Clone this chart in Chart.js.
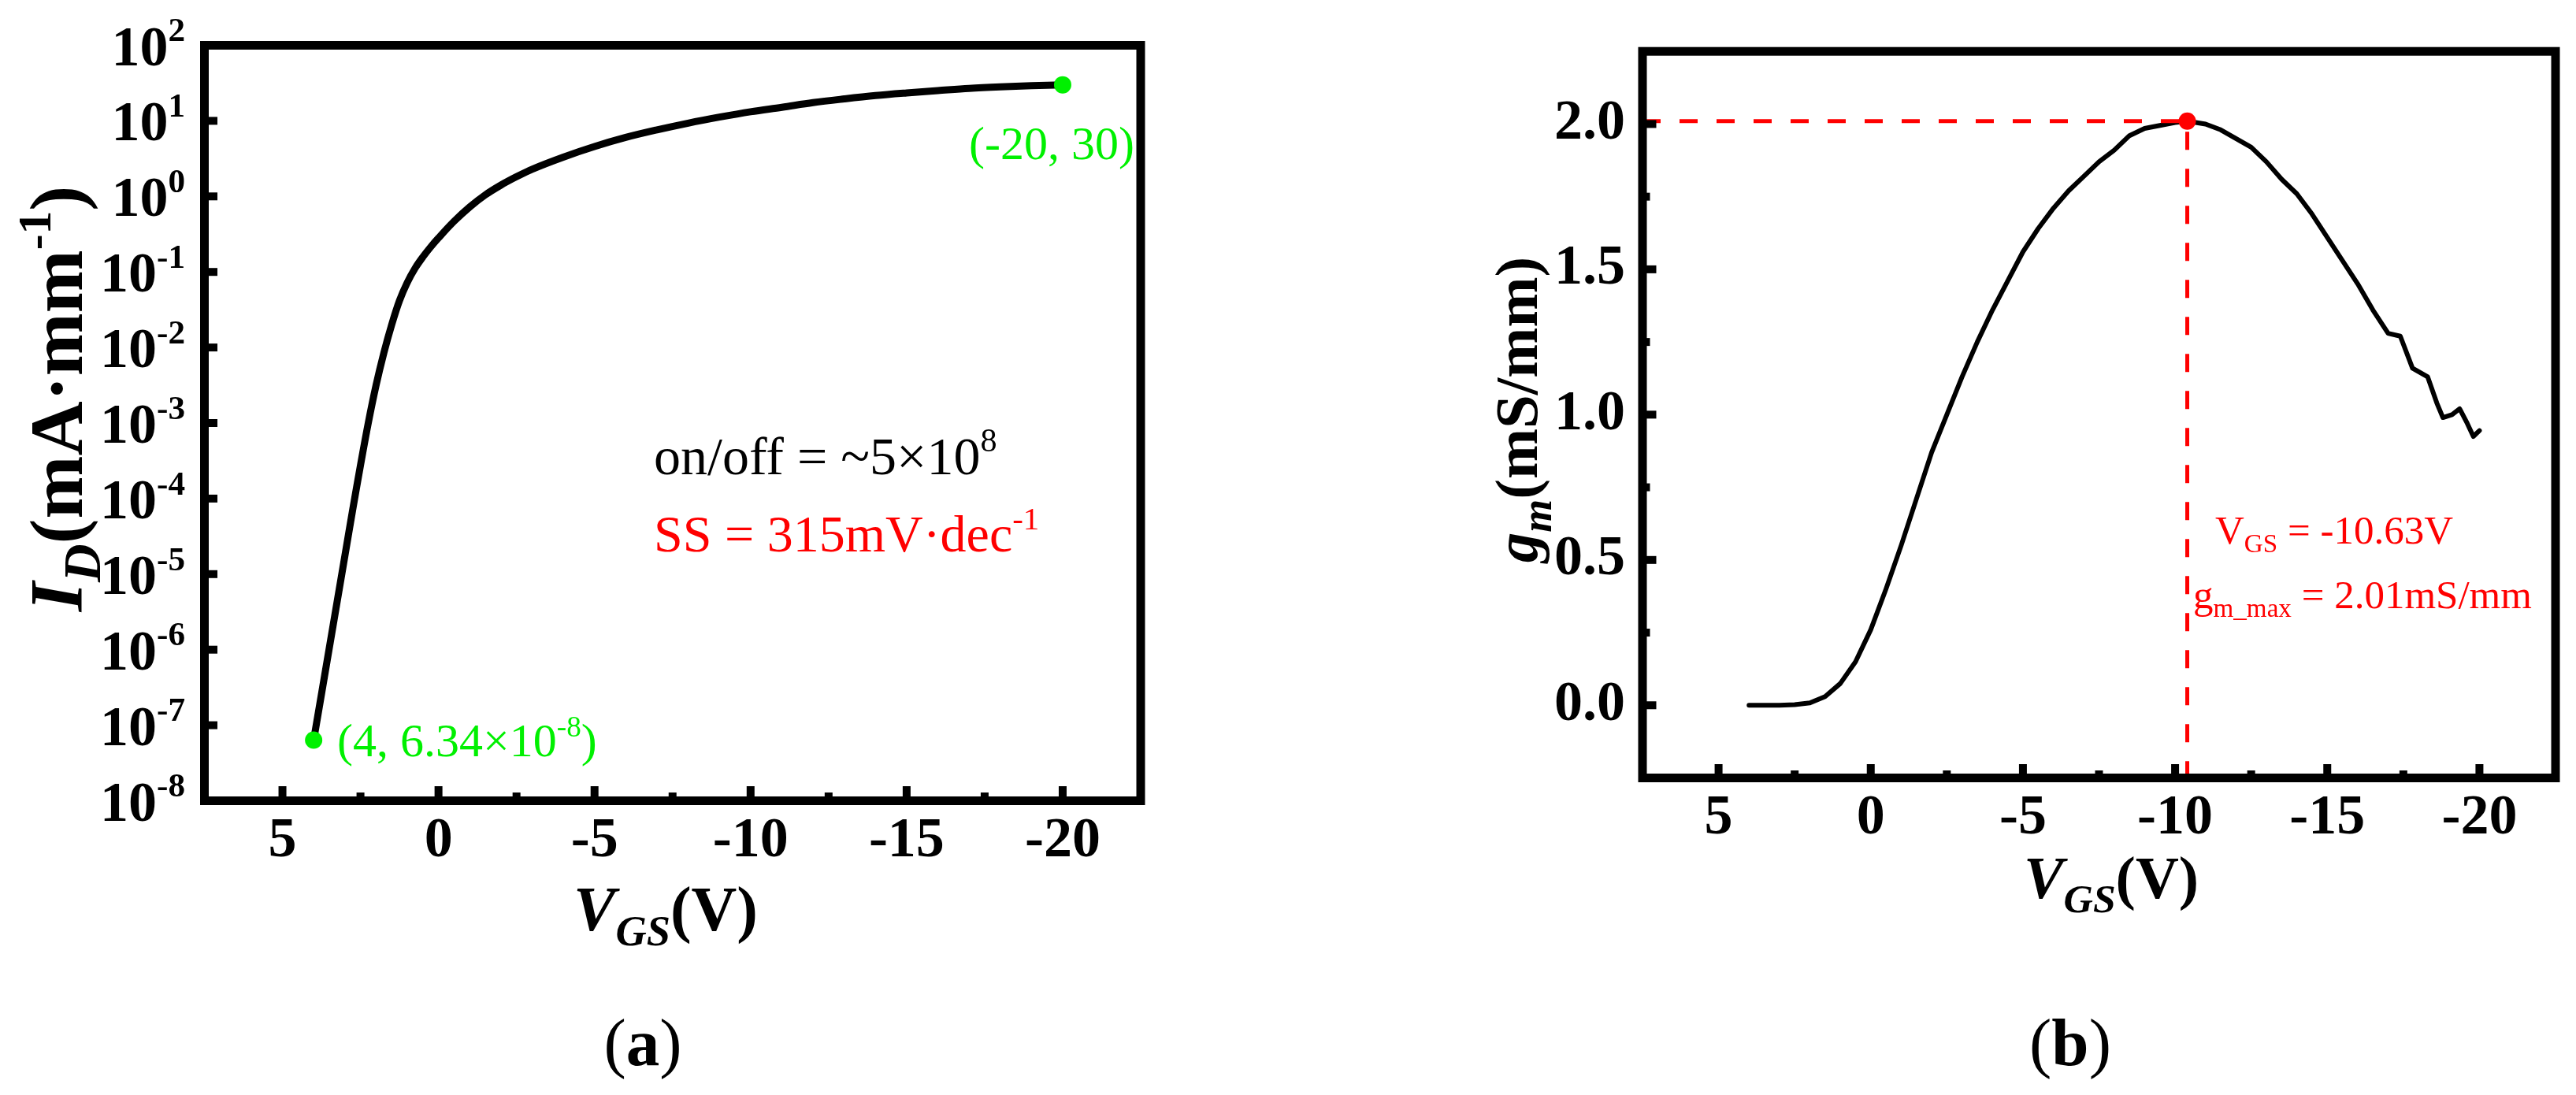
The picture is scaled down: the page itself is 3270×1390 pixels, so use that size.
<!DOCTYPE html>
<html>
<head>
<meta charset="utf-8">
<script src="https://cdn.jsdelivr.net/npm/chart.js@4.4.1/dist/chart.umd.min.js"></script>
<style>
html,body{margin:0;padding:0;background:#fff;width:3270px;height:1390px;overflow:hidden}
#ca{position:absolute;left:0;top:0}
#cb{position:absolute;left:1635px;top:0}
</style>
</head>
<body>
<canvas id="ca" width="1635" height="1390"></canvas>
<canvas id="cb" width="1635" height="1390"></canvas>
<script>
// ---------------- data ----------------
// (a) transfer curve ID (mA/mm) vs VGS (V)
const idVgs = [4, 3.5, 3, 2.75, 2.5, 2.25, 2, 1.75, 1.5, 1.25, 1, 0.75, 0.5, 0.25, 0,
  -0.5, -1, -1.5, -2, -2.5, -3, -4, -5, -6, -7, -8, -9, -10, -11, -12, -13, -14, -15, -16, -17, -18, -19, -20];
const idValues = [6.34e-8, 1.047e-6, 1.74e-5, 7.08e-5, 2.75e-4, 1.0e-3, 3.16e-3, 8.5e-3, 0.02, 0.0417,
  0.0724, 0.112, 0.158, 0.214, 0.282, 0.468, 0.724, 1.047, 1.41, 1.82, 2.29, 3.31, 4.57, 6.03, 7.59,
  9.33, 11.2, 13.2, 15.1, 17.4, 19.5, 21.6, 23.4, 25.1, 26.9, 28.2, 29.2, 30];
const idMarkVgs = [4, -20];
const idMarkValues = [6.34e-8, 30];
const idExponents = [-8, -7, -6, -5, -4, -3, -2, -1, 0, 1, 2];

// (b) transconductance gm (mS/mm) vs VGS (V)
const gmVgs = [4, 3.5, 3, 2.5, 2, 1.5, 1, 0.5, 0, -0.5, -1, -1.5, -2, -2.5, -3, -3.5, -4, -4.5, -5, -5.5,
  -6, -6.5, -7, -7.5, -8, -8.5, -9, -9.5, -10, -10.4, -11, -11.5, -12, -12.5, -13, -13.5, -14, -14.5,
  -15, -15.5, -16, -16.5, -17, -17.4, -17.8, -18.3, -18.6, -18.8, -19.1, -19.35, -19.6, -19.8, -20];
const gmValues = [0, 0, 0, 0.002, 0.008, 0.03, 0.075, 0.15, 0.26, 0.40, 0.55, 0.71, 0.87, 1.0, 1.13, 1.25,
  1.36, 1.46, 1.56, 1.64, 1.71, 1.77, 1.82, 1.87, 1.91, 1.96, 1.985, 1.995, 2.005, 2.01, 2.0, 1.98, 1.95,
  1.92, 1.87, 1.81, 1.76, 1.69, 1.61, 1.53, 1.45, 1.36, 1.28, 1.27, 1.16, 1.13, 1.04, 0.99, 1.0, 1.02,
  0.97, 0.925, 0.945];
const gmPeakVgs = -10.4;
const gmPeakValue = 2.01;

// tick labels
const vgsTicks = [5, 0, -5, -10, -15, -20];
const vgsTickLabels = ['5', '0', '-5', '-10', '-15', '-20'];
const vgsMinorTicks = [2.5, -2.5, -7.5, -12.5, -17.5];
const gmTicks = [0, 0.5, 1, 1.5, 2];
const gmTickLabels = ['0.0', '0.5', '1.0', '1.5', '2.0'];
const gmMinorTicks = [0.25, 0.75, 1.25, 1.75];

// ---------------- helpers ----------------
const FAMILY = '"Liberation Serif", "Times New Roman", serif';
Chart.defaults.font.family = FAMILY;
Chart.defaults.color = '#000';
Chart.defaults.animation = false;

// segs: [text, style('n','b','i','bi'), kind(0 normal,1 sub,2 sup)]
function richText(ctx, segs, x, y, size, color, align, rotate, opt) {
  opt = opt || {};
  const subScale = opt.subScale || 0.65, supScale = opt.supScale || 0.62;
  const subDy = opt.subDy != null ? opt.subDy : 0.22, supDy = opt.supDy != null ? opt.supDy : 0.42;
  const fontOf = s => {
    const sz = s[2] === 1 ? size * subScale : s[2] === 2 ? size * supScale : size;
    const st = s[1] || 'n';
    return (st.indexOf('i') >= 0 ? 'italic ' : '') + (st.indexOf('b') >= 0 ? 'bold ' : '') + sz + 'px ' + FAMILY;
  };
  ctx.save();
  ctx.translate(x, y);
  if (rotate) ctx.rotate(rotate);
  let w = 0;
  for (const s of segs) { ctx.font = fontOf(s); w += ctx.measureText(s[0]).width; }
  let cx = align === 'center' ? -w / 2 : align === 'right' ? -w : 0;
  ctx.fillStyle = color;
  ctx.textBaseline = 'alphabetic';
  ctx.textAlign = 'left';
  for (const s of segs) {
    ctx.font = fontOf(s);
    const dy = s[2] === 1 ? size * subDy : s[2] === 2 ? -size * supDy : 0;
    ctx.fillText(s[0], cx, dy);
    cx += ctx.measureText(s[0]).width;
  }
  ctx.restore();
}

function drawFrameAndTicks(chart, cfg) {
  const ctx = chart.ctx;
  const a = chart.chartArea;
  const xs = chart.scales.x, ys = chart.scales.y;
  ctx.save();
  ctx.strokeStyle = '#000';
  ctx.lineWidth = cfg.frame;
  ctx.lineJoin = 'miter';
  ctx.strokeRect(a.left, a.top, a.right - a.left, a.bottom - a.top);
  ctx.fillStyle = '#000';
  const half = cfg.frame / 2, tw = cfg.tickWidth;
  for (const v of cfg.xMajor) {
    const px = xs.getPixelForValue(v);
    ctx.fillRect(px - tw / 2, a.bottom - half - cfg.xMajLen, tw, cfg.xMajLen + half);
  }
  for (const v of cfg.xMinor) {
    const px = xs.getPixelForValue(v);
    ctx.fillRect(px - tw / 2, a.bottom - half - cfg.minLen, tw, cfg.minLen + half);
  }
  for (const v of cfg.yMajor) {
    const py = ys.getPixelForValue(v);
    ctx.fillRect(a.left, py - tw / 2, half + cfg.yMajLen, tw);
  }
  for (const v of cfg.yMinor) {
    const py = ys.getPixelForValue(v);
    ctx.fillRect(a.left, py - tw / 2, half + cfg.minLen, tw);
  }
  ctx.restore();
}

const tickFont = { family: FAMILY, size: 72, weight: 'bold' };

function xScale() {
  return {
    type: 'linear', reverse: true, min: -22.5, max: 7.5,
    afterBuildTicks: s => { s.ticks = vgsTicks.map(v => ({ value: v })); },
    afterFit: s => { s.height = 150; },
    grid: { display: false, drawTicks: false },
    border: { display: false },
    ticks: { padding: 9, font: tickFont, color: '#000', maxRotation: 0, autoSkip: false,
      callback: (v, i) => vgsTickLabels[i] }
  };
}

// ---------------- chart (a) ----------------
const GREEN = '#00f000';
new Chart(document.getElementById('ca'), {
  type: 'line',
  data: {
    datasets: [
      { data: idMarkVgs.map((v, i) => ({ x: v, y: idMarkValues[i] })), showLine: false,
        pointRadius: 11, pointBackgroundColor: GREEN, pointBorderWidth: 0, clip: false },
      { data: idVgs.map((v, i) => ({ x: v, y: idValues[i] })), borderColor: '#000', borderWidth: 9,
        pointRadius: 0, tension: 0.35, fill: false, borderCapStyle: 'round',
        borderJoinStyle: 'round' }
    ]
  },
  options: {
    responsive: false, devicePixelRatio: 1, events: [],
    layout: { padding: { left: 59.5, right: 187, top: 57.5, bottom: 223.5 } },
    plugins: { legend: { display: false }, tooltip: { enabled: false } },
    scales: {
      x: xScale(),
      y: {
        type: 'logarithmic', min: 1e-8, max: 100,
        afterBuildTicks: s => { s.ticks = idExponents.map(e => ({ value: Math.pow(10, e) })); },
        afterFit: s => { s.width = 200; },
        grid: { display: false, drawTicks: false }, border: { display: false },
        ticks: { display: false }
      }
    }
  },
  plugins: [{
    id: 'decorA',
    afterDraw(chart) {
      const ctx = chart.ctx, ys = chart.scales.y, a = chart.chartArea;
      drawFrameAndTicks(chart, { frame: 11, tickWidth: 10, xMajLen: 13, yMajLen: 11, minLen: 5,
        xMajor: vgsTicks, xMinor: vgsMinorTicks, yMajor: idExponents.map(e => Math.pow(10, e)), yMinor: [] });
      // log tick labels 10^n
      idExponents.forEach(e => {
        const py = ys.getPixelForValue(Math.pow(10, e));
        richText(ctx, [['10', 'b', 0], [String(e), 'b', 2]], a.left - 24.5, py + 25, 72, '#000', 'right', 0,
          { supScale: 0.6, supDy: 0.42 });
      });
      // axis titles
      richText(ctx, [['I', 'bi', 0], ['D', 'bi', 1], ['(mA·mm', 'b', 0], ['-1', 'b', 2], [')', 'b', 0]],
        104, 506, 96, '#000', 'center', -Math.PI / 2, { subScale: 0.7, subDy: 0.24, supScale: 0.62, supDy: 0.42 });
      richText(ctx, [['V', 'bi', 0], ['GS', 'bi', 1], ['(V)', 'b', 0]], 845, 1181, 80, '#000', 'center', 0,
        { subScale: 0.68, subDy: 0.24 });
      // annotations
      richText(ctx, [['(-20, 30)', 'n', 0]], 1230, 202, 60, GREEN, 'left');
      richText(ctx, [['(4, 6.34×10', 'n', 0], ['-8', 'n', 2], [')', 'n', 0]], 428, 960, 60, GREEN, 'left');
      richText(ctx, [['on/off = ~5×10', 'n', 0], ['8', 'n', 2]], 830, 602, 68, '#000', 'left');
      richText(ctx, [['SS = 315mV·dec', 'n', 0], ['-1', 'n', 2]], 830, 700, 66, '#ff0000', 'left');
      // panel label
      richText(ctx, [['(', 'n', 0], ['a', 'b', 0], [')', 'n', 0]], 816, 1352, 85, '#000', 'center');
    }
  }]
});

// ---------------- chart (b) ----------------
new Chart(document.getElementById('cb'), {
  type: 'line',
  data: {
    datasets: [
      { data: [{ x: gmPeakVgs, y: gmPeakValue }], showLine: false, pointRadius: 11,
        pointBackgroundColor: '#ff0000', pointBorderWidth: 0 },
      { data: [{ x: 7.5, y: gmPeakValue }, { x: gmPeakVgs, y: gmPeakValue }, { x: gmPeakVgs, y: -0.25 }],
        borderColor: '#ff0000', borderWidth: 5, borderDash: [23, 24], pointRadius: 0, fill: false },
      { data: gmVgs.map((v, i) => ({ x: v, y: gmValues[i] })), borderColor: '#000', borderWidth: 6,
        pointRadius: 0, tension: 0, fill: false, borderCapStyle: 'round', borderJoinStyle: 'round' }
    ]
  },
  options: {
    responsive: false, devicePixelRatio: 1, events: [],
    layout: { padding: { left: 250, right: 26, top: 53.5, bottom: 252.5 } },
    plugins: { legend: { display: false }, tooltip: { enabled: false } },
    scales: {
      x: xScale(),
      y: {
        type: 'linear', min: -0.25, max: 2.25,
        afterBuildTicks: s => { s.ticks = gmTicks.map(v => ({ value: v })); },
        afterFit: s => { s.width = 200; },
        grid: { display: false, drawTicks: false }, border: { display: false },
        ticks: { padding: 22, font: tickFont, color: '#000', autoSkip: false,
          callback: (v, i) => gmTickLabels[i] }
      }
    }
  },
  plugins: [{
    id: 'decorB',
    afterDraw(chart) {
      const ctx = chart.ctx;
      drawFrameAndTicks(chart, { frame: 11, tickWidth: 10, xMajLen: 12, yMajLen: 12, minLen: 4,
        xMajor: vgsTicks, xMinor: vgsMinorTicks, yMajor: gmTicks, yMinor: gmMinorTicks });
      richText(ctx, [['g', 'bi', 0], ['m', 'bi', 1], ['(mS/mm)', 'b', 0]], 316, 520, 77, '#000', 'center',
        -Math.PI / 2, { subScale: 0.7, subDy: 0.24 });
      richText(ctx, [['V', 'bi', 0], ['GS', 'bi', 1], ['(V)', 'b', 0]], 1045, 1140, 76, '#000', 'center', 0,
        { subScale: 0.68, subDy: 0.24 });
      richText(ctx, [['V', 'n', 0], ['GS', 'n', 1], [' = -10.63V', 'n', 0]], 1177, 690, 51, '#ff0000', 'left');
      richText(ctx, [['g', 'n', 0], ['m_max', 'n', 1], [' = 2.01mS/mm', 'n', 0]], 1149, 772, 51, '#ff0000', 'left');
      richText(ctx, [['(', 'n', 0], ['b', 'b', 0], [')', 'n', 0]], 993, 1352, 85, '#000', 'center');
    }
  }]
});
</script>
</body>
</html>
